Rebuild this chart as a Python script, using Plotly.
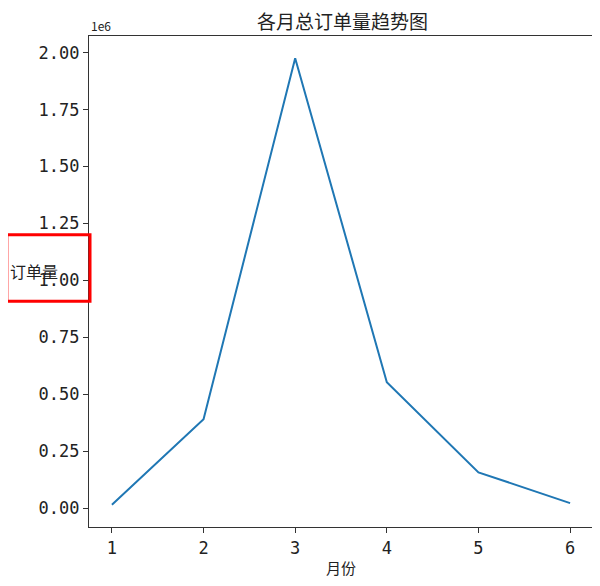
import plotly.graph_objects as go

months = [1, 2, 3, 4, 5, 6]
orders = [15000, 390000, 1975000, 553000, 157000, 22000]
y_tickvals = [0, 250000, 500000, 750000, 1000000, 1250000, 1500000, 1750000, 2000000]
y_ticktext = ["0.00", "0.25", "0.50", "0.75", "1.00", "1.25", "1.50", "1.75", "2.00"]

font_cjk = "Noto Sans CJK SC, DejaVu Sans, sans-serif"
font_num = "DejaVu Sans Mono, monospace"

fig = go.Figure()
fig.add_trace(go.Scatter(x=months, y=orders, mode="lines",
                         line=dict(color="#1f77b4", width=2), showlegend=False))

ymin, ymax = min(orders), max(orders)
pad = (ymax - ymin) * 0.05

fig.update_layout(
    width=592, height=578,
    margin=dict(l=81, r=7, t=28, b=59),
    paper_bgcolor="white", plot_bgcolor="white",
    title=dict(text="各月总订单量趋势图", x=0.565, xanchor="center", y=0.975, yanchor="middle",
               font=dict(family=font_cjk, size=19, color="#222")),
    font=dict(family=font_cjk, color="#222"),
    xaxis=dict(range=[0.75, 6.25], tickvals=months, ticktext=[str(m) for m in months],
               showgrid=False, zeroline=False, showline=True, linecolor="#333", linewidth=1.2,
               mirror=True, ticks="outside", ticklen=5, tickcolor="#333",
               tickfont=dict(size=17, family=font_num),
               title=dict(text="月份", font=dict(size=15, family=font_cjk), standoff=6)),
    yaxis=dict(range=[ymin - pad, ymax + pad], tickvals=y_tickvals, ticktext=y_ticktext,
               showgrid=False, zeroline=False, showline=True, linecolor="#333", linewidth=1.2,
               mirror=True, ticks="outside", ticklen=5, tickcolor="#333",
               tickfont=dict(size=17, family=font_num)),
)

fig.add_annotation(text="订单量", xref="paper", yref="paper", x=-0.16, y=0.522,
                   xanchor="left", yanchor="middle", showarrow=False,
                   font=dict(size=16, family=font_cjk, color="#222"))
fig.add_annotation(text="1e6", xref="paper", yref="paper", x=0.0, y=1.0,
                   xanchor="left", yanchor="bottom", showarrow=False,
                   font=dict(size=12, family=font_cjk, color="#222"))
fig.add_shape(type="rect", xref="paper", yref="paper", x0=-0.163, x1=0.002, y0=0.46, y1=0.595,
              line=dict(color="red", width=3))

fig.write_html("out.html")
